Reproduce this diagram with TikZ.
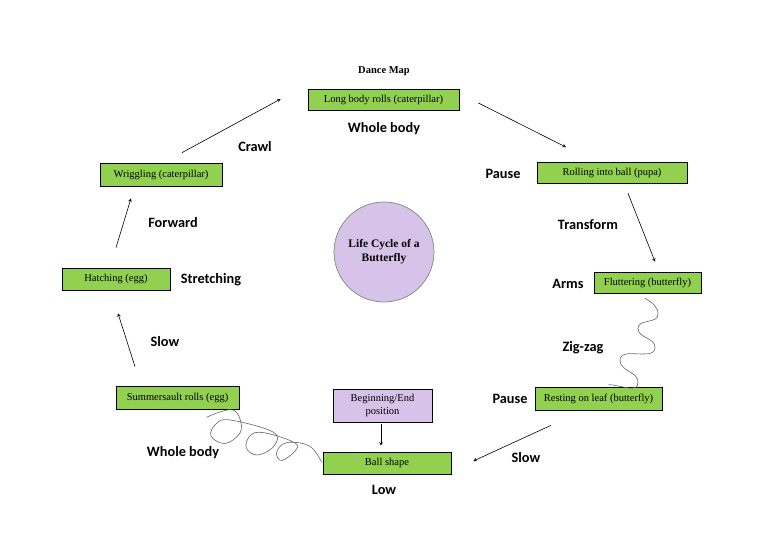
\documentclass[tikz,border=0pt]{standalone}
\usepackage{fontspec}
\setmainfont{Liberation Serif}
\newfontfamily\cuefont{Carlito}
\usetikzlibrary{arrows,decorations.pathmorphing,positioning}
\definecolor{stagegreen}{RGB}{146,208,80}
\definecolor{lilac}{RGB}{215,195,233}
\definecolor{rimgrey}{RGB}{125,138,118}

\begin{document}
\begin{tikzpicture}
	[x=1pt, y=1pt, inner sep=0pt,
	stage/.style	= {rectangle,draw,fill=stagegreen,line width=0.7pt,minimum height=21pt,font=\fontsize{10.5}{12}\selectfont},
	homebox/.style	= {rectangle,draw,fill=lilac,line width=0.7pt,minimum width=99pt,minimum height=33pt,align=center,font=\fontsize{10.5}{13}\selectfont},
	hub/.style		= {circle,draw=rimgrey,fill=lilac,line width=0.7pt,minimum size=100pt,align=center,font=\fontsize{11.5}{14}\selectfont\bfseries},
	heading/.style	= {font=\fontsize{10.5}{12}\selectfont\bfseries},
	cue/.style		= {font=\cuefont\fontsize{14.3}{16}\selectfont\bfseries},
	paths/.style	= {->, >=stealth, line width=0.6pt},
	squiggle/.style	= {draw=gray!80!black, line width=0.6pt}]
	
	\useasboundingbox (0, 0) rectangle (768, 543);
	
	\node at (384, 472)		[heading]	(title)	{Dance Map};
	\node at (384, 291)		[hub]		(life)	{Life Cycle of a\\Butterfly};
	
	\node at (383.5, 443.5)	[stage, minimum width=151pt]	(lbr)	{Long body rolls (caterpillar)};
	\node at (612, 370.5)	[stage, minimum width=150pt]	(rib)	{Rolling into ball (pupa)};
	\node at (647.5, 260.5)	[stage, minimum width=107pt]	(flut)	{Fluttering (butterfly)};
	\node at (598.5, 144.5)	[stage, minimum width=127pt, minimum height=23pt]	(rest)	{Resting on leaf (butterfly)};
	\node at (387, 80)		[stage, minimum width=128pt, minimum height=22pt]	(ball)	{Ball shape};
	\node at (177.5, 145.5)	[stage, minimum width=123pt, minimum height=23pt]	(ssr)	{Summersault rolls (egg)};
	\node at (116, 264)		[stage, minimum width=108pt, minimum height=22pt]	(hatch)	{Hatching (egg)};
	\node at (161, 368)		[stage, minimum width=122pt, minimum height=23pt]	(wrig)	{Wriggling (caterpillar)};
	
	\node at (382.5, 137.5)	[homebox]	(home)	{Beginning/End\\position};
	
	\node at (384, 414)		[cue]	(cwb)	{Whole body};
	\node at (503, 369)		[cue]	(cp1)	{Pause};
	\node at (588, 318)		[cue]	(ctr)	{Transform};
	\node at (568, 259)		[cue]	(carm)	{Arms};
	\node at (583, 195)		[cue]	(czz)	{Zig-zag};
	\node at (510, 144)		[cue]	(cp2)	{Pause};
	\node at (526, 85)		[cue]	(cs1)	{Slow};
	\node at (384, 53)		[cue]	(clow)	{Low};
	\node at (183, 90)		[cue]	(cwb2)	{Whole body};
	\node at (165, 201)		[cue]	(cs2)	{Slow};
	\node at (211, 263)		[cue]	(cst)	{Stretching};
	\node at (173, 320)		[cue]	(cfw)	{Forward};
	\node at (255, 396)		[cue]	(ccr)	{Crawl};
	
	\draw [paths] ([xshift=19pt, yshift=-3.5pt]lbr.east) -- ([xshift=-46pt, yshift=14.5pt]rib.north);
	\draw [paths] ([xshift=16pt, yshift=-10pt]rib.south) -- ([xshift=7.5pt, yshift=10pt]flut.north);
	\draw [paths] ([xshift=-47.5pt, yshift=-15pt]rest.south) -- ([xshift=22pt, yshift=2pt]ball.east);
	\draw [paths] ([xshift=-1.5pt, yshift=-2pt]home.south) -- ([xshift=-6pt, yshift=6pt]ball.north);
	\draw [paths] ([xshift=-42.5pt, yshift=19pt]ssr.north) -- ([xshift=2pt, yshift=-23pt]hatch.south);
	\draw [paths] ([yshift=20pt]hatch.north) -- ([xshift=-30pt, yshift=-11.5pt]wrig.south);
	\draw [paths] ([xshift=21pt, yshift=10.5pt]wrig.north) -- ([xshift=-27pt, yshift=0.5pt]lbr.west);
	
	% zig-zag line
	\draw [squiggle] ([xshift=-2.5pt, yshift=-5pt]flut.south) to[out=-30, in=90] ++(13, -16)
		to[out=-90, in=90] ++(-20, -14) to[out=-90, in=90] ++(17, -19)
		to[out=-90, in=90] ++(-35, -13) to[out=-90, in=90] ++(18, -22)
		to[out=-90, in=0] ([xshift=10pt, yshift=2pt]rest.north);
	
	% rolling loops
	\draw [squiggle] plot [smooth, tension=0.65] coordinates {([xshift=29pt, yshift=-8pt]ssr.south)
		(220, 131) (233, 133) (240, 124) (240, 110) (225, 99.5) (211, 107) (216, 119) (230, 123)
		(273, 111) (274, 97) (257, 88) (246, 96) (252, 109) (268, 109.5)
		(295, 100) (295, 92) (282, 82.5) (276.5, 89.5) (283, 99) (297, 100.5) (311.5, 95.5)
		([xshift=-1pt, yshift=1pt]ball.west)};
	
\end{tikzpicture}
\end{document}
